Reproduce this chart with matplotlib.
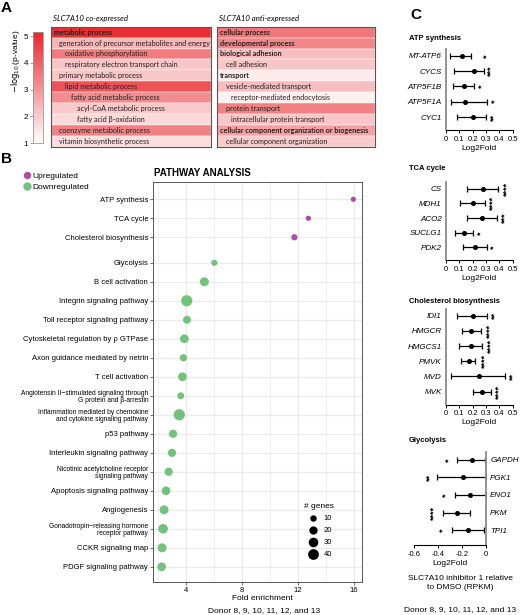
import numpy as np
import matplotlib.pyplot as plt
from matplotlib.colors import LinearSegmentedColormap, Normalize
from matplotlib.cm import ScalarMappable
from matplotlib.lines import Line2D

W, H = 520, 615
plt.rcParams['font.family'] = ['Liberation Sans', 'DejaVu Sans']
TABLE_FONT = ['Lato', 'DejaVu Sans']

# ---------------- data: panel A (GO terms) ----------------
co_terms = ['metabolic process', 'generation of precursor metabolites and energy',
            'oxidative phosphorylation', 'respiratory electron transport chain',
            'primary metabolic process', 'lipid metabolic process',
            'fatty acid metabolic process', 'acyl-CoA metabolic process',
            'fatty acid β-oxidation', 'coenzyme metabolic process',
            'vitamin biosynthetic process']
co_level = [0, 1, 2, 2, 1, 2, 3, 4, 4, 1, 1]
co_bold = [True] + [False] * 10
co_logp = [5.0, 2.4, 3.5, 2.1, 2.1, 4.3, 3.2, 2.05, 1.75, 3.4, 1.65]

anti_terms = ['cellular process', 'developmental process', 'biological adhesion',
              'cell adhesion', 'transport', 'vesicle-mediated transport',
              'receptor-mediated endocytosis', 'protein transport',
              'intracellular protein transport',
              'cellular component organization or biogenesis',
              'cellular component organization']
anti_level = [0, 0, 0, 1, 0, 1, 2, 1, 2, 0, 1]
anti_bold = [True, True, True, False, True, False, False, False, False, True, False]
anti_logp = [3.6, 3.3, 2.25, 2.1, 1.4, 2.25, 1.3, 3.4, 2.1, 2.8, 2.0]

# ---------------- data: panel B (pathways) ----------------
pathways = ['ATP synthesis', 'TCA cycle', 'Cholesterol biosynthesis', 'Glycolysis',
            'B cell activation', 'Integrin signaling pathway',
            'Toll receptor signaling pathway', 'Cytoskeletal regulation by ρ GTPase',
            'Axon guidance mediated by netrin', 'T cell activation',
            'Angiotensin II−stimulated signaling through\nG protein and β-arrestin',
            'Inflammation mediated by chemokine\nand cytokine signaling pathway',
            'p53 pathway', 'Interleukin signaling pathway',
            'Nicotinic acetylcholine receptor\nsignaling pathway',
            'Apoptosis signaling pathway', 'Angiogenesis',
            'Gonadotropin−releasing hormone\nreceptor pathway',
            'CCKR signaling map', 'PDGF signaling pathway']
fold = [15.95, 12.74, 11.74, 6.02, 5.31, 4.05, 4.07, 3.88, 3.81, 3.74,
        3.62, 3.52, 3.07, 3.0, 2.76, 2.57, 2.43, 2.36, 2.29, 2.26]
genes = [5, 5, 9, 9, 25, 45, 18, 23, 14, 23, 12, 45, 20, 20, 20, 23, 25, 30, 25, 23]
regulation = ['up'] * 3 + ['down'] * 17

# ---------------- data: panel C (log2 fold) ----------------
atp_genes = ['MT-ATP6', 'CYCS', 'ATP5F1B', 'ATP5F1A', 'CYC1']
atp_mean = [0.12, 0.21, 0.134, 0.14, 0.20]
atp_lo = [0.033, 0.058, 0.053, 0.035, 0.086]
atp_hi = [0.19, 0.285, 0.21, 0.31, 0.30]
atp_star_x = [0.31, 0.34, 0.27, 0.37, 0.36]
atp_stars = ['*', '***', '*', '*', '**']

tca_genes = ['CS', 'MDH1', 'ACO2', 'SUCLG1', 'PDK2']
tca_mean = [0.28, 0.20, 0.27, 0.138, 0.22]
tca_lo = [0.158, 0.108, 0.158, 0.068, 0.125]
tca_hi = [0.39, 0.29, 0.383, 0.205, 0.305]
tca_star_x = [0.455, 0.355, 0.445, 0.26, 0.36]
tca_stars = ['****', '****', '***', '*', '*']

chol_genes = ['IDI1', 'HMGCR', 'HMGCS1', 'PMVK', 'MVD', 'MVK']
chol_mean = [0.20, 0.19, 0.185, 0.17, 0.25, 0.27]
chol_lo = [0.08, 0.12, 0.10, 0.11, 0.04, 0.20]
chol_hi = [0.31, 0.26, 0.27, 0.22, 0.44, 0.335]
chol_star_x = [0.37, 0.33, 0.335, 0.29, 0.50, 0.40]
chol_stars = ['**', '****', '****', '****', '**', '****']

gly_genes = ['GAPDH', 'PGK1', 'ENO1', 'PKM', 'TPI1']
gly_mean = [-0.12, -0.19, -0.13, -0.24, -0.15]
gly_lo = [-0.24, -0.405, -0.26, -0.36, -0.28]
gly_hi = [-0.01, 0.0, 0.0, -0.13, -0.02]
gly_star_x = [-0.31, -0.47, -0.33, -0.43, -0.36]
gly_stars = ['*', '**', '*', '****', '*']

donors = 'Donor 8, 9, 10, 11, 12, and 13'


def box(x0, y0, x1, y1):
    return [x0 / W, 1 - y1 / H, (x1 - x0) / W, (y1 - y0) / H]


def ftext(x, y, s, **kw):
    fig.text(x / W, 1 - y / H, s, **kw)


fig = plt.figure(figsize=(W / 100, H / 100), dpi=100)

# ================= panel A =================
ftext(6, 8, 'A', fontsize=11, fontweight='bold', ha='center', va='center')
red_cmap = LinearSegmentedColormap.from_list('wr', ['#ffffff', '#e8262b'])
norm = Normalize(vmin=1, vmax=5.15)

cax = fig.add_axes(box(33, 32, 43, 143))
cb = fig.colorbar(ScalarMappable(norm=norm, cmap=red_cmap), cax=cax, ticks=[1, 2, 3, 4, 5])
cb.outline.set_edgecolor('#999999')
cb.outline.set_linewidth(0.6)
cax.yaxis.set_ticks_position('left')
cax.tick_params(labelsize=5.8, length=2, width=0.5, color='#777777', pad=1.5)
ftext(15, 61, r'$-\log_{10}$(p-value)', rotation=90, fontsize=6, ha='center', va='center')


def go_table(rect, terms, level, bold, logp, title, title_x):
    ax = fig.add_axes(box(*rect))
    rows = np.arange(len(terms))
    ax.barh(rows, 1, left=0, height=1, color=red_cmap(norm(np.array(logp))),
            edgecolor='white', linewidth=0.3)
    for r, t, lv, b in zip(rows, terms, level, bold):
        ax.annotate(t, xy=(0, r), xytext=(2.0 + lv * 4.1, 0), textcoords='offset points',
                    ha='left', va='center', fontsize=5.2, family=TABLE_FONT,
                    fontweight='bold' if b else 'normal', color='#222222')
    ax.set_xlim(0, 1)
    ax.set_ylim(len(terms) - 0.5, -0.5)
    ax.set_xticks([])
    ax.set_yticks([])
    for s in ax.spines.values():
        s.set_edgecolor('#555555')
        s.set_linewidth(0.8)
    ftext(title_x, 19, title, fontsize=5.6, style='italic', family=TABLE_FONT,
          ha='left', va='center')


go_table((51, 26.7, 210.7, 146.7), co_terms, co_level, co_bold, co_logp,
         'SLC7A10 co-expressed', 53)
go_table((217.3, 26.7, 375, 146.7), anti_terms, anti_level, anti_bold, anti_logp,
         'SLC7A10 anti-expressed', 219)

# ================= panel B =================
ftext(6, 159.5, 'B', fontsize=11, fontweight='bold', ha='center', va='center')
ftext(154, 173, 'PATHWAY ANALYSIS', fontsize=7, fontweight='bold', ha='left', va='center')

purple, green = '#b24aa8', '#72c27c'
axb = fig.add_axes(box(153, 182, 362, 582))
ypos = np.arange(len(pathways)) + (np.arange(len(pathways)) >= 3) * 0.34


def dot_area(n):
    d_px = 2.2 + 1.35 * np.sqrt(np.asarray(n, dtype=float))
    return (d_px * 0.72) ** 2


cols = [purple if r == 'up' else green for r in regulation]
axb.scatter(fold, ypos, s=dot_area(genes), c=cols, linewidths=0, zorder=3)
axb.set_xlim(1.64, 16.57)
axb.set_ylim(ypos[-1] + 0.8, -0.91)
axb.set_xticks([4, 8, 12, 16])
axb.set_xticks([2, 6, 10, 14], minor=True)
axb.set_yticks(ypos, pathways)
axb.grid(which='major', color='#ebebeb', linewidth=1.0)
axb.grid(which='minor', axis='x', color='#ebebeb', linewidth=0.6)
axb.set_axisbelow(True)
axb.tick_params(which='major', labelsize=5.5, length=2, width=0.5, color='#333333', pad=1.5)
axb.tick_params(which='minor', length=0)
for lab in axb.get_yticklabels():
    if '\n' in lab.get_text():
        lab.set_fontsize(4.8)
        lab.set_linespacing(0.95)
for s in axb.spines.values():
    s.set_edgecolor('#555555')
    s.set_linewidth(0.7)

ftext(262, 599, 'Fold enrichment', fontsize=6, ha='center', va='center')
ftext(264, 610.5, donors, fontsize=6, ha='center', va='center')

fig.legend(handles=[Line2D([], [], marker='o', ls='', color=purple, ms=4.3),
                    Line2D([], [], marker='o', ls='', color=green, ms=5.0)],
           labels=['Upregulated', 'Downregulated'], loc='upper left',
           bbox_to_anchor=(22 / W, 1 - 172 / H), frameon=False, fontsize=6,
           handletextpad=0.1, labelspacing=0.35, handlelength=1.2,
           borderpad=0, borderaxespad=0)

size_handles = [axb.scatter([], [], s=dot_area(n), c='black', linewidths=0) for n in [10, 20, 30, 40]]
axb.legend(size_handles, ['10', '20', '30', '40'], title='# genes', loc='upper left',
           bbox_to_anchor=((300 - 153) / 209, 1 - (499 - 182) / 400), frameon=False,
           fontsize=5.5, title_fontsize=6, labelspacing=0.6, handletextpad=0.4,
           borderpad=0, scatterpoints=1)

# ================= panel C =================
ftext(416, 15, 'C', fontsize=11, fontweight='bold', ha='center', va='center')


def forest(rect, title, title_y, names, mean, lo, hi, star_x, stars, xlim, xticks, right=False):
    ax = fig.add_axes(box(*rect))
    mean, lo, hi = map(np.asarray, (mean, lo, hi))
    rows = np.arange(len(names))
    ax.errorbar(mean, rows, xerr=[mean - lo, hi - mean], fmt='o', color='black', ms=2.6,
                capsize=2.3, elinewidth=0.9, capthick=0.9)
    for sx, r, st in zip(star_x, rows, stars):
        ax.text(sx, r, st, rotation=90, ha='center', va='center', fontsize=6.5,
                fontweight='bold', linespacing=1.0)
    ax.set_xlim(*xlim)
    ax.set_ylim(len(names) - 0.15, -0.45)
    ax.set_xticks(xticks, [('%g' % t) for t in xticks])
    ax.set_yticks(rows, names, style='italic')
    ax.tick_params(axis='y', length=0, labelsize=5.8, pad=3)
    ax.tick_params(axis='x', length=2.5, width=0.7, labelsize=5.5, pad=1.5)
    ax.spines['top'].set_visible(False)
    if right:
        ax.yaxis.tick_right()
        ax.spines['left'].set_visible(False)
        side = ax.spines['right']
    else:
        ax.spines['right'].set_visible(False)
        side = ax.spines['left']
    side.set_edgecolor('#8a8a8a')
    side.set_linewidth(1.3)
    ax.spines['bottom'].set_linewidth(0.8)
    ax.patch.set_alpha(0)
    ftext(409, title_y, title, fontsize=5.5, fontweight='bold', ha='left', va='center')
    ax.set_xlabel('Log2Fold', fontsize=6, labelpad=1.5)
    return ax


pos_ticks = [0, 0.1, 0.2, 0.3, 0.4, 0.5]
forest((446, 49, 512.5, 130), 'ATP synthesis', 38, atp_genes, atp_mean, atp_lo, atp_hi,
       atp_star_x, atp_stars, (0, 0.5), pos_ticks)
forest((446, 182, 512.5, 260), 'TCA cycle', 168, tca_genes, tca_mean, tca_lo, tca_hi,
       tca_star_x, tca_stars, (0, 0.5), pos_ticks)
forest((446, 309, 512.5, 404.5), 'Cholesterol biosynthesis', 302, chol_genes, chol_mean,
       chol_lo, chol_hi, chol_star_x, chol_stars, (0, 0.5), pos_ticks)
forest((414, 452, 486, 545), 'Glycolysis', 441, gly_genes, gly_mean, gly_lo, gly_hi,
       gly_star_x, gly_stars, (-0.6, 0), [-0.6, -0.4, -0.2, 0], right=True)

ftext(460, 583, 'SLC7A10 inhibitor 1 relative\nto DMSO (RPKM)', fontsize=6,
      ha='center', va='center', linespacing=1.3)
ftext(460, 610, donors, fontsize=6, ha='center', va='center')

fig.savefig('out.png', dpi=100)
